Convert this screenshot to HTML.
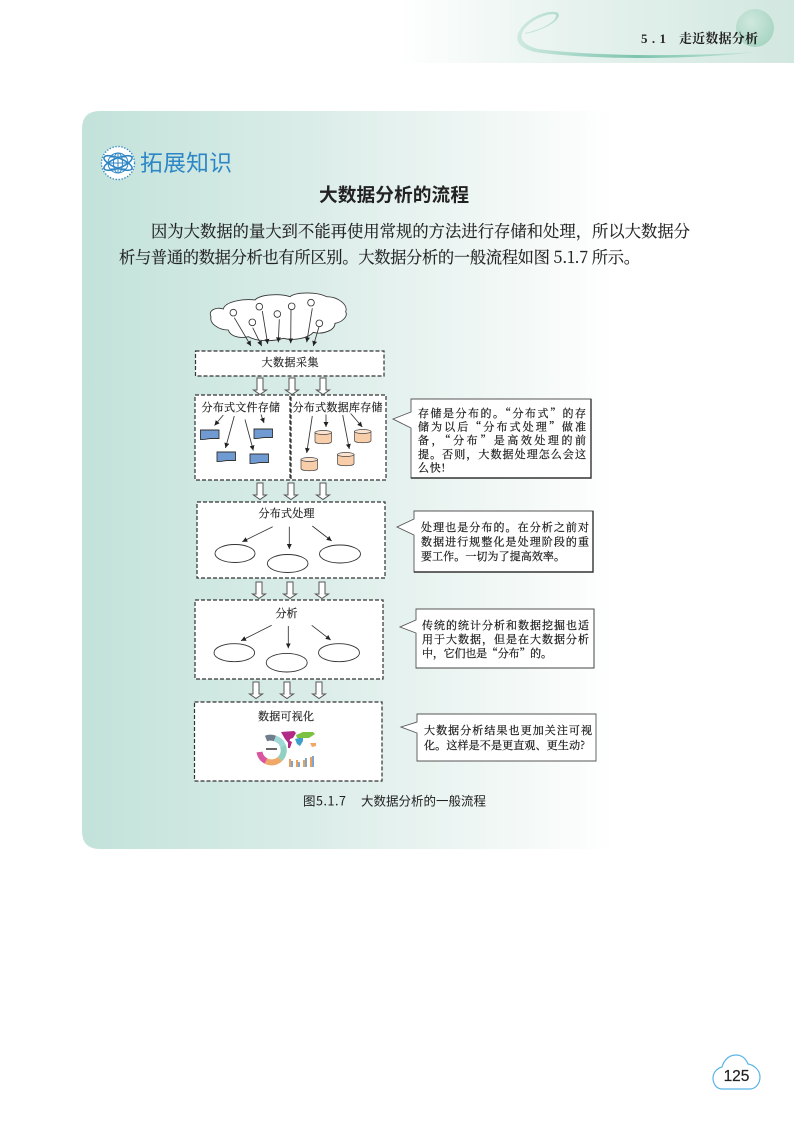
<!DOCTYPE html>
<html lang="zh"><head><meta charset="utf-8"><title>大数据分析的流程</title>
<style>
html,body{margin:0;padding:0;background:#fff}
svg{display:block}
.s{font-family:"Noto Serif CJK SC","Liberation Serif",serif;fill:#222}
.h{font-family:"Noto Sans CJK SC","Liberation Sans",sans-serif;fill:#222}
.lab{font-family:"Noto Serif CJK SC",serif;font-size:11px;fill:#222;stroke:#222;stroke-width:.2}
.cal{font-family:"Noto Serif CJK SC",serif;font-size:11px;fill:#1c1c1c;stroke:#1c1c1c;stroke-width:.25}
.box{fill:#fff;stroke:#333;stroke-width:1.2;stroke-dasharray:4 2}
.ln{stroke:#333;stroke-width:.85;fill:none;marker-end:url(#ah)}
.el{fill:#fff;stroke:#333;stroke-width:.9}
.co{fill:#fff;stroke:#555;stroke-width:.9}
.sh{fill:none;stroke:#333;stroke-width:1.4}
</style></head><body>
<svg width="794" height="1122" viewBox="0 0 794 1122" xmlns="http://www.w3.org/2000/svg">
<defs>
<linearGradient id="pg" x1="0" x2="1" y1="0" y2="0"><stop offset="0" stop-color="#c2e2da"/><stop offset=".45" stop-color="#dcede9"/><stop offset=".8" stop-color="#f2f8f6"/><stop offset="1" stop-color="#fff"/></linearGradient>
<linearGradient id="hg" x1="0" x2="1" y1="0" y2="0"><stop offset="0" stop-color="#fff"/><stop offset=".45" stop-color="#e6f2ee"/><stop offset="1" stop-color="#d2e7e0"/></linearGradient>
<linearGradient id="sw" x1="0" x2="1" y1="0" y2="0"><stop offset="0" stop-color="#cfe9e1"/><stop offset=".5" stop-color="#7cc4ae"/><stop offset="1" stop-color="#c5e3d8"/></linearGradient>
<radialGradient id="gl" cx=".4" cy=".35" r=".7"><stop offset="0" stop-color="#d0e8de"/><stop offset="1" stop-color="#a6d4c1"/></radialGradient>
<marker id="ah" markerUnits="userSpaceOnUse" markerWidth="6" markerHeight="6" refX="5" refY="2.5" orient="auto"><path d="M0,0L5,2.5L0,5z" fill="#222"/></marker>
<path id="ba" d="M-3,0H3V12H6.5L0,16.5L-6.5,12H-3Z" fill="#fff" stroke="#555" stroke-width="1"/>
<path id="doc" d="M0,0H18.5V8.5H10C8,8.5 6,9.8 0,9.5Z" fill="#6f9bd2" stroke="#333" stroke-width=".9"/>
<g id="cyl"><path d="M0,2.5V11.5C0,14.5 16.5,14.5 16.5,11.5V2.5Z" fill="#f8cdaa" stroke="#444" stroke-width=".7"/><ellipse cx="8.25" cy="2.5" rx="8.25" ry="2" fill="#fbe2cf" stroke="#444" stroke-width=".7"/></g>
</defs>

<!-- header -->
<rect x="398" y="0" width="396" height="63" fill="url(#hg)"/>
<circle cx="755" cy="28" r="19" fill="url(#gl)"/>
<path d="M525,33C540,30 557,22 556,15C553,12 535,17 526,27C518,36 520,44 538,49C590,56 680,57 757,52C690,60 590,60 535,52C515,47 514,37 522,27C532,15 552,9 558,13C563,19 545,30 525,34Z" fill="url(#sw)"/>
<text x="641" y="43" font-family="Liberation Serif,serif" font-weight="700" font-size="13" fill="#2a2a2a" textLength="25" lengthAdjust="spacing">5.1</text>
<text x="679" y="43" class="s" font-weight="700" font-size="13" textLength="79" lengthAdjust="spacing">走近数据分析</text>

<!-- panel -->
<path d="M100,111H615V849H100Q82,849 82,831V129Q82,111 100,111Z" fill="url(#pg)"/>

<!-- icon -->
<circle cx="118" cy="163" r="16.5" fill="#fff" stroke="#2e86c4" stroke-width="1.4" stroke-dasharray="1.3 1.7"/>
<g fill="none" stroke="#2e86c4" stroke-width="1">
<circle cx="118" cy="163" r="10"/><ellipse cx="118" cy="163" rx="4.5" ry="10"/><path d="M108,163H128M110,157H126M110,169H126M118,153V173"/>
<ellipse cx="118" cy="163" rx="15" ry="5" transform="rotate(22 118 163)" stroke-width="1.6"/>
<ellipse cx="118" cy="163" rx="15" ry="5" transform="rotate(-22 118 163)" stroke-width="1.6"/>
</g>
<text x="140" y="171" font-family="Noto Sans CJK SC,sans-serif" font-size="22.8" fill="#2d87c6" textLength="92" lengthAdjust="spacing">拓展知识</text>

<text x="319" y="201.5" class="h" font-weight="700" font-size="18.7" textLength="150" lengthAdjust="spacing">大数据分析的流程</text>
<text x="151" y="237" class="s" font-size="16.3" stroke="#222" stroke-width=".15" textLength="539" lengthAdjust="spacing">因为大数据的量大到不能再使用常规的方法进行存储和处理，所以大数据分</text>
<text x="119" y="263" class="s" font-size="16.3" stroke="#222" stroke-width=".15" textLength="521" lengthAdjust="spacing">析与普通的数据分析也有所区别。大数据分析的一般流程如图 5.1.7 所示。</text>

<!-- cloud -->
<g transform="translate(180 285) scale(.33333)">
<path d="M93,95C83,75 110,65 130,72C135,50 190,40 225,45C240,28 300,25 330,35C350,20 410,20 440,35C475,35 505,60 497,80C505,95 485,112 465,115C465,135 430,150 400,142C385,160 340,168 310,160C280,170 230,170 205,155C175,162 150,152 145,135C115,135 88,115 93,95Z" fill="#fff" stroke="#333" stroke-width="2.6"/>
<g fill="#fff" stroke="#333" stroke-width="2.5">
<circle cx="160" cy="83" r="10"/><circle cx="217" cy="112" r="10"/><circle cx="238" cy="65" r="10"/><circle cx="292" cy="87" r="10"/><circle cx="335" cy="64" r="10"/><circle cx="393" cy="53" r="10"/><circle cx="418" cy="115" r="10"/>
</g>
</g>
<path class="ln" d="M234.3,317.7L251,346"/><path class="ln" d="M252.7,327.7L261.7,346"/><path class="ln" d="M262.3,311L267.7,344"/><path class="ln" d="M279.3,319.3L278.3,342.3"/><path class="ln" d="M291,310L290.7,343.3"/><path class="ln" d="M312.3,308.3L306.7,342.3"/><path class="ln" d="M319,326.7L313.3,346"/>

<!-- boxes -->
<rect class="box" x="195.5" y="351" width="188.5" height="25"/>
<rect class="box" x="195" y="395" width="95" height="85"/>
<rect class="box" x="291" y="395" width="95" height="85"/>
<rect class="box" x="197" y="502" width="188" height="76"/>
<rect class="box" x="195" y="600" width="188" height="79"/>
<rect class="box" x="194.5" y="702" width="187.5" height="79"/>

<text class="lab" x="261.5" y="366" textLength="57" lengthAdjust="spacing">大数据采集</text>
<text class="lab" x="201.5" y="411" textLength="78.5" lengthAdjust="spacing">分布式文件存储</text>
<text class="lab" x="292.5" y="411" textLength="90" lengthAdjust="spacing">分布式数据库存储</text>
<text class="lab" x="258.5" y="517" textLength="56" lengthAdjust="spacing">分布式处理</text>
<text class="lab" x="275.5" y="617" textLength="22" lengthAdjust="spacing">分析</text>
<text class="lab" x="258" y="720" textLength="56" lengthAdjust="spacing">数据可视化</text>

<!-- block arrows -->
<use href="#ba" x="260" y="378"/><use href="#ba" x="292" y="378"/><use href="#ba" x="323" y="378"/>
<use href="#ba" x="260" y="483"/><use href="#ba" x="291" y="483"/><use href="#ba" x="323" y="483"/>
<use href="#ba" x="259" y="582"/><use href="#ba" x="290" y="582"/><use href="#ba" x="322" y="582"/>
<use href="#ba" x="256" y="682"/><use href="#ba" x="287" y="682"/><use href="#ba" x="319" y="682"/>

<!-- storage contents -->
<use href="#doc" x="200.5" y="430"/><use href="#doc" x="217" y="452"/><use href="#doc" x="254" y="429"/><use href="#doc" x="250" y="454"/>
<path class="ln" d="M223.3,415L214.5,425.5"/><path class="ln" d="M234.3,416L225.5,448"/><path class="ln" d="M245,419.5L253.3,450.5"/><path class="ln" d="M261,414.5L264,423"/>
<use href="#cyl" x="315" y="430"/><use href="#cyl" x="354.5" y="429"/><use href="#cyl" x="337.5" y="452"/><use href="#cyl" x="301" y="457"/>
<path class="ln" d="M312.3,416L306.7,453"/><path class="ln" d="M326,414.5L326,427"/><path class="ln" d="M342.7,415L349.3,449"/><path class="ln" d="M350.7,413.5L362.3,427"/>

<!-- process -->
<path class="ln" d="M272.7,526.7L242.3,541.7"/><path class="ln" d="M289.3,526.7L289.3,549"/><path class="ln" d="M312.3,526L331.7,541"/>
<ellipse class="el" cx="235" cy="553.5" rx="20" ry="9"/><ellipse class="el" cx="287.7" cy="563.5" rx="20.3" ry="9"/><ellipse class="el" cx="340" cy="554" rx="20.5" ry="9"/>
<!-- analysis -->
<path class="ln" d="M271.7,625.3L241,640.7"/><path class="ln" d="M288.3,626L288.3,648.3"/><path class="ln" d="M311.7,625.3L330.7,640"/>
<ellipse class="el" cx="234.3" cy="652.7" rx="20.3" ry="9"/><ellipse class="el" cx="286.7" cy="662.7" rx="20.5" ry="9.3"/><ellipse class="el" cx="339" cy="652.7" rx="20.5" ry="9"/>

<!-- visualisation -->
<g fill="none" stroke-width="6">
<path d="M266,738.5A12,12 0 0 1 275,738.5" stroke="#6f7d8c"/>
<path d="M275,738.5A12,12 0 0 1 283,746" stroke="#9fd8d6"/>
<path d="M283,746A12,12 0 0 1 280,759" stroke="#8fd0c0"/>
<path d="M280,759A12,12 0 0 1 266,761" stroke="#f0a868"/>
<path d="M266,761A12,12 0 0 1 259.5,752" stroke="#d9559f"/>
</g>
<rect x="266" y="748" width="11" height="2" fill="#666"/>
<path d="M281,732L294,731L296,733L293,738L290,739L289,744L285,739Z" fill="#b02a86"/>
<path d="M288,740L292,742L290,748L288,748Z" fill="#b02a86"/>
<path d="M295,739L303,737V741L300,746L297,744Z" fill="#3d9fd0"/>
<path d="M296,735L303,732H313L315,734L309,738L303,738L297,738Z" fill="#7cc242"/>
<path d="M310,743H316V746L312,747Z" fill="#f0a868"/>
<g fill="#ef9d5a"><rect x="289" y="759" width="2" height="8"/><rect x="296" y="760" width="2" height="7"/><rect x="303" y="760" width="2" height="7"/><rect x="310" y="757" width="2" height="10"/></g>
<g fill="#7ba6cf"><rect x="291" y="761" width="2" height="6"/><rect x="298" y="762" width="2" height="5"/><rect x="305" y="758" width="2" height="9"/><rect x="312" y="756" width="2" height="11"/></g>

<!-- callouts -->
<path class="co" d="M411,399H591V478H411V428L393,419L411,412Z"/><path class="sh" d="M591,399V478H411"/>
<text class="cal" x="418" y="417" textLength="168" lengthAdjust="spacing">存储是分布的。“分布式”的存</text>
<text class="cal" x="418" y="430.5" textLength="168" lengthAdjust="spacing">储为以后“分布式处理”做准</text>
<text class="cal" x="418" y="444" textLength="168" lengthAdjust="spacing">备，“分布”是高效处理的前</text>
<text class="cal" x="418" y="458" textLength="168" lengthAdjust="spacing">提。否则，大数据处理怎么会这</text>
<text class="cal" x="418" y="471.5" textLength="27" lengthAdjust="spacing">么快!</text>

<path class="co" d="M414,511H593V572H414V535L397,527L414,519Z"/><path class="sh" d="M593,511V572H414"/>
<text class="cal" x="421" y="531" textLength="168" lengthAdjust="spacing">处理也是分布的。在分析之前对</text>
<text class="cal" x="421" y="545.5" textLength="168" lengthAdjust="spacing">数据进行规整化是处理阶段的重</text>
<text class="cal" x="421" y="560" textLength="144" lengthAdjust="spacing">要工作。一切为了提高效率。</text>

<path class="co" d="M416,609H594V668H416V633L400,627L416,620Z"/><path d="M594,609V668H416" fill="none" stroke="#444" stroke-width="1"/>
<text class="cal" x="422" y="629" textLength="167" lengthAdjust="spacing">传统的统计分析和数据挖掘也适</text>
<text class="cal" x="422" y="643" textLength="167" lengthAdjust="spacing">用于大数据，但是在大数据分析</text>
<text class="cal" x="422" y="657" textLength="130" lengthAdjust="spacing">中，它们也是“分布”的。</text>

<path class="co" d="M417,714H596V761H417V733L401,727L417,722Z"/>
<text class="cal" x="424" y="734" textLength="168" lengthAdjust="spacing">大数据分析结果也更加关注可视</text>
<text class="cal" x="424" y="749" textLength="161" lengthAdjust="spacing">化。这样是不是更直观、更生动?</text>

<text x="303" y="805.5" class="h" font-size="12.5" fill="#333" textLength="43" lengthAdjust="spacing">图5.1.7</text>
<text x="361" y="805.5" class="h" font-size="12.5" fill="#333" textLength="125" lengthAdjust="spacing">大数据分析的一般流程</text>

<!-- page number -->
<path d="M722,1089C716,1089 713,1083 713,1078C713,1072 718,1068 722,1067C724,1060 729,1055 736,1055C742,1055 746,1059 748,1064C754,1065 760,1070 760,1077C760,1084 755,1089 750,1089Z" fill="#fff" stroke="#5ab4e5" stroke-width="1.2"/>
<text x="736.5" y="1081" text-anchor="middle" font-family="Liberation Sans,sans-serif" font-size="15.5" fill="#222" stroke="#222" stroke-width=".2">125</text>
</svg>
</body></html>
